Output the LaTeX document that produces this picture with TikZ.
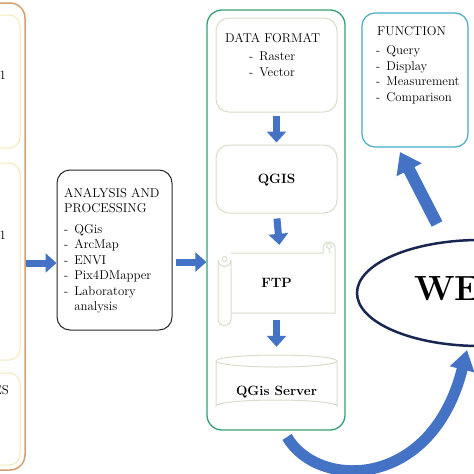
\documentclass[tikz,border=0pt]{standalone}
\usetikzlibrary{arrows.meta,shapes.geometric}
\definecolor{arrowblue}{RGB}{68,114,196}
\definecolor{leftframe}{RGB}{214,160,110}
\definecolor{leftinner}{RGB}{244,232,186}
\definecolor{greenframe}{RGB}{56,160,112}
\definecolor{innergray}{RGB}{214,222,200}
\definecolor{funcframe}{RGB}{72,170,200}
\definecolor{webnavy}{RGB}{24,38,82}
\begin{document}
\begin{tikzpicture}[x=1pt, y=-1pt,
		box/.style = {draw, rounded corners=13pt, line width=1pt, inner sep=0pt},
		listtext/.style = {anchor=north west, inner sep=0pt, font=\fontsize{12.8}{15.5}\selectfont},
		bigtext/.style = {font=\fontsize{13.5}{16}\selectfont\bfseries},
		blockarrow/.style = {arrowblue, line width=7pt, -{Triangle[width=19pt,length=11pt]}},
		scrollline/.style = {innergray, line width=1pt}]
	\useasboundingbox (0,0) rectangle (474,474);
	
	% left column, mostly outside the picture
	\node[box, leftframe, line width=1.5pt, rounded corners=15pt, minimum width=45pt, minimum height=467pt] (src) at (2.5,236.5) {};
	\node[box, leftinner, rounded corners=11pt, minimum width=40pt, minimum height=133pt] (srcA) at (0,81.5) {};
	\node[box, leftinner, rounded corners=11pt, minimum width=40pt, minimum height=197pt] (srcB) at (0,261.5) {};
	\node[box, leftinner, rounded corners=11pt, minimum width=40pt, minimum height=92pt] (srcC) at (0,419) {};
	\node[anchor=east, inner sep=0pt, font=\fontsize{12.8}{14}\selectfont] (tA) at (6,75) {1};
	\node[anchor=east, inner sep=0pt, font=\fontsize{12.8}{14}\selectfont] (tB) at (6,235) {1};
	\node[anchor=east, inner sep=0pt, font=\fontsize{12.8}{14}\selectfont] (tC) at (9,390) {ES};
	
	% analysis
	\node[box, black!85, minimum width=115pt, minimum height=160pt] (ana) at (114.5,250) {};
	\node[listtext] (anatext) at (64,186) {%
		\begin{tabular}{@{}l@{\hspace{6pt}}l@{}}
			\multicolumn{2}{@{}l@{}}{ANALYSIS AND}\\
			\multicolumn{2}{@{}l@{}}{PROCESSING}\\[5pt]
			- & QGis\\
			- & ArcMap\\
			- & ENVI\\
			- & Pix4DMapper\\
			- & Laboratory\\
			  & analysis
		\end{tabular}};
	
	% web gis column
	\node[box, greenframe, line width=1.3pt, rounded corners=15pt, minimum width=138pt, minimum height=420pt] (gis) at (276,220) {};
	\node[box, innergray, minimum width=121pt, minimum height=94pt] (fmt) at (276.5,65) {};
	\node[listtext] (fmttext) at (225,31) {%
		\begin{tabular}{@{}l@{}}
			DATA FORMAT\\[3pt]
			\hspace{24pt}-\hspace{6pt}Raster\\
			\hspace{24pt}-\hspace{6pt}Vector
		\end{tabular}};
	\node[box, innergray, minimum width=121pt, minimum height=68pt] (qgis) at (276.5,179) {};
	\node[bigtext] (qgistext) at (276.5,180) {QGIS};
	\node[minimum width=110pt, minimum height=60pt, inner sep=0pt] (ftp) at (280,283) {};
	\node[bigtext] (ftptext) at (276.5,283) {FTP};
	\node[minimum width=121pt, minimum height=57pt, inner sep=0pt] (srv) at (276.5,383.5) {};
	\node[bigtext] (srvtext) at (276.5,392) {QGis Server};
	
	% scroll outline of ftp
	\draw[scrollline] (231,253) -- (323,253) -- (323,248) arc[start angle=180, end angle=360, radius=6] -- (335,313) -- (231,313);
	\draw[scrollline] (329,248) -- (329,253);
	\draw[scrollline] (329,246) circle[radius=2.5];
	\draw[scrollline] (218,260) arc[start angle=180, end angle=0, radius=6.5] -- (231,319) arc[start angle=0, end angle=180, radius=6.5] -- cycle;
	\draw[scrollline] (224.5,259) circle[radius=2.5];
	
	% cylinder outline of server
	\draw[scrollline] (276.5,361) ellipse[x radius=60.5, y radius=6];
	\draw[scrollline] (216,361) -- (216,406) arc[start angle=180, end angle=360, x radius=60.5, y radius=6] -- (337,361);
	
	% function
	\node[box, funcframe, line width=1.2pt, minimum width=106pt, minimum height=134pt] (func) at (415,80) {};
	\node[listtext] (functext) at (376,24) {%
		\begin{tabular}{@{}l@{\hspace{6pt}}l@{}}
			\multicolumn{2}{@{}l@{}}{\hspace{1pt}FUNCTION}\\[4pt]
			- & Query\\
			- & Display\\
			- & Measurement\\
			- & Comparison
		\end{tabular}};
	
	% web
	\node[draw, ellipse, webnavy, line width=2.5pt, minimum width=246pt, minimum height=106pt] (web) at (480,293) {};
	\node[anchor=west, inner sep=0pt, font=\fontsize{35}{40}\selectfont\bfseries] (webtext) at (414,289) {WEB};
	
	\coordinate (webtail) at (437,224);
	\coordinate (functip) at (400,152);
	\coordinate (srvout) at (287,437);
	\coordinate (webin) at (467,350);
	
	% arrows
	\draw[blockarrow] (src.east |- 0,263) -- (ana.west |- 0,263);
	\draw[blockarrow, shorten <=3pt] (ana.east |- 0,262) -- (gis.west |- 0,262);
	\draw[blockarrow, shorten <=3pt, shorten >=2pt] (fmt.south) -- (qgis.north);
	\draw[blockarrow, shorten <=5pt, shorten >=8pt] (qgis.south) -- (ftp.north);
	\draw[blockarrow, shorten <=7pt, shorten >=8pt] (ftp.south -| qgis.south) -- (srv.north);
	\draw[arrowblue, line width=12pt, -{Triangle[width=27pt,length=20pt]}] (webtail) -- (functip);
	\draw[arrowblue, line width=11pt, -{Triangle[width=24pt,length=20pt]}] (srvout) .. controls (318,490) and (432,490) .. (webin);
\end{tikzpicture}
\end{document}
